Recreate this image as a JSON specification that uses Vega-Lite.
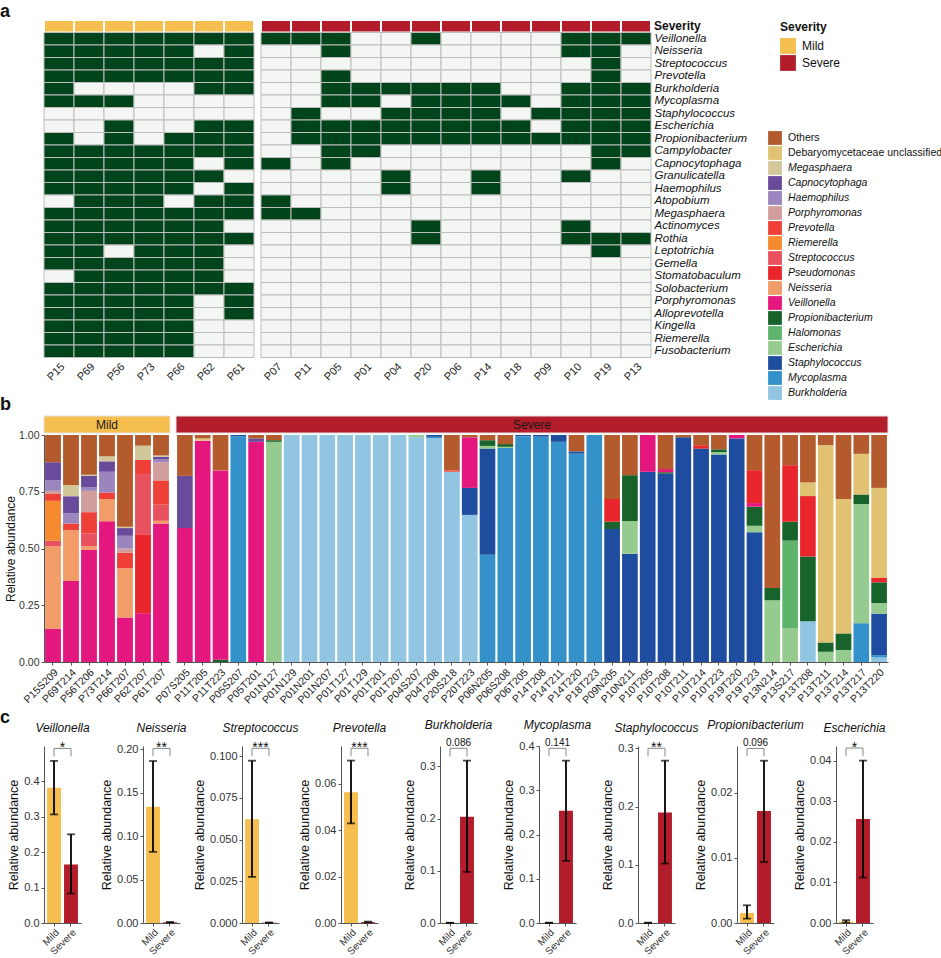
{
"$schema": "https://vega.github.io/schema/vega-lite/v6.json",
"background": "white",
"padding": {"top": 2, "left": 0, "right": 0, "bottom": 0},
"config": {
  "font": "Liberation Sans",
  "view": {"stroke": null},
  "axis": {"grid": false, "domainColor": "#555555", "tickColor": "#555555", "labelColor": "#333333", "titleColor": "#111111", "titleFontWeight": "normal", "labelFontSize": 11, "titleFontSize": 12.5, "tickSize": 3, "labelPadding": 2, "titlePadding": 3},
  "title": {"fontStyle": "italic", "fontSize": 12, "fontWeight": "normal", "offset": 6, "color": "#111111"},
  "legend": {"padding": 0, "labelFontSize": 11, "labelColor": "#111111"}
},
"datasets": {
  "patients": [{"pid":"P15","sev":"Mild"},{"pid":"P69","sev":"Mild"},{"pid":"P56","sev":"Mild"},{"pid":"P73","sev":"Mild"},{"pid":"P66","sev":"Mild"},{"pid":"P62","sev":"Mild"},{"pid":"P61","sev":"Mild"},{"pid":"P07","sev":"Severe"},{"pid":"P11","sev":"Severe"},{"pid":"P05","sev":"Severe"},{"pid":"P01","sev":"Severe"},{"pid":"P04","sev":"Severe"},{"pid":"P20","sev":"Severe"},{"pid":"P06","sev":"Severe"},{"pid":"P14","sev":"Severe"},{"pid":"P18","sev":"Severe"},{"pid":"P09","sev":"Severe"},{"pid":"P10","sev":"Severe"},{"pid":"P19","sev":"Severe"},{"pid":"P13","sev":"Severe"}],
  "genera": [{"genus":"Burkholderia","k":1},{"genus":"Mycoplasma","k":2},{"genus":"Staphylococcus","k":3},{"genus":"Escherichia","k":4},{"genus":"Halomonas","k":5},{"genus":"Propionibacterium","k":6},{"genus":"Veillonella","k":7},{"genus":"Neisseria","k":8},{"genus":"Pseudomonas","k":9},{"genus":"Streptococcus","k":10},{"genus":"Riemerella","k":11},{"genus":"Prevotella","k":12},{"genus":"Porphyromonas","k":13},{"genus":"Haemophilus","k":14},{"genus":"Capnocytophaga","k":15},{"genus":"Megasphaera","k":16},{"genus":"Debaryomycetaceae unclassified","k":17},{"genus":"Others","k":18}],
  "pres": [
    {"genus":"Veillonella","P15":1,"P69":1,"P56":1,"P73":1,"P66":1,"P62":1,"P61":1,"P07":1,"P11":1,"P05":1,"P01":0,"P04":0,"P20":1,"P06":0,"P14":0,"P18":0,"P09":0,"P10":1,"P19":1,"P13":1},
    {"genus":"Neisseria","P15":1,"P69":1,"P56":1,"P73":1,"P66":1,"P62":0,"P61":1,"P07":0,"P11":0,"P05":1,"P01":0,"P04":0,"P20":0,"P06":0,"P14":0,"P18":0,"P09":0,"P10":1,"P19":1,"P13":0},
    {"genus":"Streptococcus","P15":1,"P69":1,"P56":1,"P73":1,"P66":1,"P62":1,"P61":1,"P07":0,"P11":0,"P05":0,"P01":0,"P04":0,"P20":0,"P06":0,"P14":0,"P18":0,"P09":0,"P10":0,"P19":1,"P13":0},
    {"genus":"Prevotella","P15":1,"P69":1,"P56":1,"P73":1,"P66":1,"P62":1,"P61":1,"P07":0,"P11":0,"P05":1,"P01":0,"P04":0,"P20":0,"P06":0,"P14":0,"P18":0,"P09":0,"P10":0,"P19":1,"P13":0},
    {"genus":"Burkholderia","P15":1,"P69":0,"P56":0,"P73":0,"P66":0,"P62":1,"P61":1,"P07":0,"P11":0,"P05":1,"P01":1,"P04":1,"P20":1,"P06":1,"P14":1,"P18":0,"P09":0,"P10":1,"P19":1,"P13":1},
    {"genus":"Mycoplasma","P15":1,"P69":1,"P56":1,"P73":0,"P66":0,"P62":0,"P61":0,"P07":0,"P11":0,"P05":1,"P01":1,"P04":0,"P20":1,"P06":1,"P14":1,"P18":1,"P09":0,"P10":1,"P19":1,"P13":1},
    {"genus":"Staphylococcus","P15":0,"P69":0,"P56":0,"P73":0,"P66":0,"P62":0,"P61":0,"P07":0,"P11":1,"P05":0,"P01":0,"P04":1,"P20":1,"P06":1,"P14":1,"P18":0,"P09":1,"P10":1,"P19":1,"P13":1},
    {"genus":"Escherichia","P15":0,"P69":0,"P56":1,"P73":0,"P66":0,"P62":1,"P61":1,"P07":0,"P11":1,"P05":1,"P01":1,"P04":1,"P20":1,"P06":1,"P14":1,"P18":1,"P09":0,"P10":1,"P19":1,"P13":1},
    {"genus":"Propionibacterium","P15":1,"P69":0,"P56":1,"P73":0,"P66":1,"P62":1,"P61":1,"P07":0,"P11":1,"P05":1,"P01":1,"P04":1,"P20":1,"P06":1,"P14":1,"P18":1,"P09":1,"P10":1,"P19":1,"P13":1},
    {"genus":"Campylobacter","P15":1,"P69":1,"P56":1,"P73":1,"P66":1,"P62":1,"P61":1,"P07":0,"P11":0,"P05":1,"P01":1,"P04":0,"P20":0,"P06":0,"P14":0,"P18":0,"P09":0,"P10":0,"P19":1,"P13":1},
    {"genus":"Capnocytophaga","P15":1,"P69":1,"P56":1,"P73":1,"P66":1,"P62":0,"P61":1,"P07":1,"P11":0,"P05":1,"P01":0,"P04":0,"P20":0,"P06":0,"P14":0,"P18":0,"P09":0,"P10":0,"P19":1,"P13":0},
    {"genus":"Granulicatella","P15":1,"P69":1,"P56":1,"P73":1,"P66":1,"P62":1,"P61":0,"P07":0,"P11":0,"P05":0,"P01":0,"P04":1,"P20":0,"P06":0,"P14":1,"P18":0,"P09":0,"P10":1,"P19":0,"P13":0},
    {"genus":"Haemophilus","P15":1,"P69":1,"P56":1,"P73":1,"P66":1,"P62":0,"P61":1,"P07":0,"P11":0,"P05":0,"P01":0,"P04":1,"P20":0,"P06":0,"P14":1,"P18":0,"P09":0,"P10":0,"P19":0,"P13":0},
    {"genus":"Atopobium","P15":0,"P69":1,"P56":1,"P73":1,"P66":0,"P62":1,"P61":1,"P07":1,"P11":0,"P05":0,"P01":0,"P04":0,"P20":0,"P06":0,"P14":0,"P18":0,"P09":0,"P10":0,"P19":0,"P13":0},
    {"genus":"Megasphaera","P15":1,"P69":1,"P56":1,"P73":1,"P66":1,"P62":1,"P61":1,"P07":1,"P11":1,"P05":0,"P01":0,"P04":0,"P20":0,"P06":0,"P14":0,"P18":0,"P09":0,"P10":0,"P19":0,"P13":0},
    {"genus":"Actinomyces","P15":1,"P69":1,"P56":1,"P73":1,"P66":1,"P62":1,"P61":0,"P07":0,"P11":0,"P05":0,"P01":0,"P04":0,"P20":1,"P06":0,"P14":0,"P18":0,"P09":0,"P10":1,"P19":0,"P13":0},
    {"genus":"Rothia","P15":1,"P69":1,"P56":1,"P73":1,"P66":1,"P62":1,"P61":1,"P07":0,"P11":0,"P05":0,"P01":0,"P04":0,"P20":1,"P06":0,"P14":0,"P18":0,"P09":0,"P10":1,"P19":1,"P13":1},
    {"genus":"Leptotrichia","P15":1,"P69":1,"P56":0,"P73":1,"P66":1,"P62":1,"P61":0,"P07":0,"P11":0,"P05":0,"P01":0,"P04":0,"P20":0,"P06":0,"P14":0,"P18":0,"P09":0,"P10":0,"P19":1,"P13":0},
    {"genus":"Gemella","P15":1,"P69":1,"P56":1,"P73":1,"P66":1,"P62":1,"P61":0,"P07":0,"P11":0,"P05":0,"P01":0,"P04":0,"P20":0,"P06":0,"P14":0,"P18":0,"P09":0,"P10":0,"P19":0,"P13":0},
    {"genus":"Stomatobaculum","P15":0,"P69":1,"P56":1,"P73":1,"P66":1,"P62":1,"P61":0,"P07":0,"P11":0,"P05":0,"P01":0,"P04":0,"P20":0,"P06":0,"P14":0,"P18":0,"P09":0,"P10":0,"P19":0,"P13":0},
    {"genus":"Solobacterium","P15":1,"P69":1,"P56":1,"P73":1,"P66":1,"P62":1,"P61":1,"P07":0,"P11":0,"P05":0,"P01":0,"P04":0,"P20":0,"P06":0,"P14":0,"P18":0,"P09":0,"P10":0,"P19":0,"P13":0},
    {"genus":"Porphyromonas","P15":1,"P69":1,"P56":1,"P73":1,"P66":1,"P62":0,"P61":1,"P07":0,"P11":0,"P05":0,"P01":0,"P04":0,"P20":0,"P06":0,"P14":0,"P18":0,"P09":0,"P10":0,"P19":0,"P13":0},
    {"genus":"Alloprevotella","P15":1,"P69":1,"P56":1,"P73":1,"P66":1,"P62":0,"P61":1,"P07":0,"P11":0,"P05":0,"P01":0,"P04":0,"P20":0,"P06":0,"P14":0,"P18":0,"P09":0,"P10":0,"P19":0,"P13":0},
    {"genus":"Kingella","P15":1,"P69":1,"P56":1,"P73":1,"P66":1,"P62":0,"P61":0,"P07":0,"P11":0,"P05":0,"P01":0,"P04":0,"P20":0,"P06":0,"P14":0,"P18":0,"P09":0,"P10":0,"P19":0,"P13":0},
    {"genus":"Riemerella","P15":1,"P69":1,"P56":1,"P73":1,"P66":1,"P62":0,"P61":0,"P07":0,"P11":0,"P05":0,"P01":0,"P04":0,"P20":0,"P06":0,"P14":0,"P18":0,"P09":0,"P10":0,"P19":0,"P13":0},
    {"genus":"Fusobacterium","P15":1,"P69":1,"P56":1,"P73":1,"P66":1,"P62":0,"P61":0,"P07":0,"P11":0,"P05":0,"P01":0,"P04":0,"P20":0,"P06":0,"P14":0,"P18":0,"P09":0,"P10":0,"P19":0,"P13":0}
  ],
  "abund": [
    {"s":"P15S209","grp":"Mild","genus":"Veillonella","v":0.147},{"s":"P15S209","grp":"Mild","genus":"Neisseria","v":0.363},{"s":"P15S209","grp":"Mild","genus":"Streptococcus","v":0.024},{"s":"P15S209","grp":"Mild","genus":"Riemerella","v":0.176},{"s":"P15S209","grp":"Mild","genus":"Prevotella","v":0.03},{"s":"P15S209","grp":"Mild","genus":"Porphyromonas","v":0.014},{"s":"P15S209","grp":"Mild","genus":"Haemophilus","v":0.046},{"s":"P15S209","grp":"Mild","genus":"Capnocytophaga","v":0.08},{"s":"P15S209","grp":"Mild","genus":"Others","v":0.12},
    {"s":"P69T214","grp":"Mild","genus":"Veillonella","v":0.357},{"s":"P69T214","grp":"Mild","genus":"Neisseria","v":0.223},{"s":"P69T214","grp":"Mild","genus":"Prevotella","v":0.03},{"s":"P69T214","grp":"Mild","genus":"Haemophilus","v":0.045},{"s":"P69T214","grp":"Mild","genus":"Capnocytophaga","v":0.075},{"s":"P69T214","grp":"Mild","genus":"Megasphaera","v":0.05},{"s":"P69T214","grp":"Mild","genus":"Others","v":0.22},
    {"s":"P56T206","grp":"Mild","genus":"Veillonella","v":0.494},{"s":"P56T206","grp":"Mild","genus":"Neisseria","v":0.016},{"s":"P56T206","grp":"Mild","genus":"Streptococcus","v":0.057},{"s":"P56T206","grp":"Mild","genus":"Prevotella","v":0.093},{"s":"P56T206","grp":"Mild","genus":"Porphyromonas","v":0.094},{"s":"P56T206","grp":"Mild","genus":"Haemophilus","v":0.016},{"s":"P56T206","grp":"Mild","genus":"Capnocytophaga","v":0.05},{"s":"P56T206","grp":"Mild","genus":"Megasphaera","v":0.005},{"s":"P56T206","grp":"Mild","genus":"Others","v":0.175},
    {"s":"P73T214","grp":"Mild","genus":"Veillonella","v":0.62},{"s":"P73T214","grp":"Mild","genus":"Neisseria","v":0.098},{"s":"P73T214","grp":"Mild","genus":"Prevotella","v":0.029},{"s":"P73T214","grp":"Mild","genus":"Haemophilus","v":0.091},{"s":"P73T214","grp":"Mild","genus":"Capnocytophaga","v":0.046},{"s":"P73T214","grp":"Mild","genus":"Megasphaera","v":0.022},{"s":"P73T214","grp":"Mild","genus":"Others","v":0.094},
    {"s":"P66T207","grp":"Mild","genus":"Veillonella","v":0.196},{"s":"P66T207","grp":"Mild","genus":"Neisseria","v":0.217},{"s":"P66T207","grp":"Mild","genus":"Prevotella","v":0.069},{"s":"P66T207","grp":"Mild","genus":"Porphyromonas","v":0.018},{"s":"P66T207","grp":"Mild","genus":"Haemophilus","v":0.056},{"s":"P66T207","grp":"Mild","genus":"Capnocytophaga","v":0.034},{"s":"P66T207","grp":"Mild","genus":"Megasphaera","v":0.006},{"s":"P66T207","grp":"Mild","genus":"Others","v":0.404},
    {"s":"P62T207","grp":"Mild","genus":"Veillonella","v":0.215},{"s":"P62T207","grp":"Mild","genus":"Pseudomonas","v":0.348},{"s":"P62T207","grp":"Mild","genus":"Streptococcus","v":0.265},{"s":"P62T207","grp":"Mild","genus":"Prevotella","v":0.062},{"s":"P62T207","grp":"Mild","genus":"Megasphaera","v":0.063},{"s":"P62T207","grp":"Mild","genus":"Others","v":0.047},
    {"s":"P61T207","grp":"Mild","genus":"Veillonella","v":0.61},{"s":"P61T207","grp":"Mild","genus":"Neisseria","v":0.012},{"s":"P61T207","grp":"Mild","genus":"Streptococcus","v":0.071},{"s":"P61T207","grp":"Mild","genus":"Prevotella","v":0.107},{"s":"P61T207","grp":"Mild","genus":"Porphyromonas","v":0.08},{"s":"P61T207","grp":"Mild","genus":"Haemophilus","v":0.014},{"s":"P61T207","grp":"Mild","genus":"Capnocytophaga","v":0.01},{"s":"P61T207","grp":"Mild","genus":"Megasphaera","v":0.006},{"s":"P61T207","grp":"Mild","genus":"Others","v":0.09},
    {"s":"P07S205","grp":"Severe","genus":"Veillonella","v":0.59},{"s":"P07S205","grp":"Severe","genus":"Capnocytophaga","v":0.23},{"s":"P07S205","grp":"Severe","genus":"Others","v":0.18},
    {"s":"P11T205","grp":"Severe","genus":"Veillonella","v":0.975},{"s":"P11T205","grp":"Severe","genus":"Debaryomycetaceae unclassified","v":0.01},{"s":"P11T205","grp":"Severe","genus":"Others","v":0.015},
    {"s":"P11T223","grp":"Severe","genus":"Propionibacterium","v":0.01},{"s":"P11T223","grp":"Severe","genus":"Veillonella","v":0.834},{"s":"P11T223","grp":"Severe","genus":"Others","v":0.156},
    {"s":"P05S207","grp":"Severe","genus":"Mycoplasma","v":0.995},{"s":"P05S207","grp":"Severe","genus":"Staphylococcus","v":0.005},
    {"s":"P05T201","grp":"Severe","genus":"Veillonella","v":0.97},{"s":"P05T201","grp":"Severe","genus":"Capnocytophaga","v":0.015},{"s":"P05T201","grp":"Severe","genus":"Others","v":0.015},
    {"s":"P01N127","grp":"Severe","genus":"Escherichia","v":0.97},{"s":"P01N127","grp":"Severe","genus":"Propionibacterium","v":0.007},{"s":"P01N127","grp":"Severe","genus":"Others","v":0.023},
    {"s":"P01N129","grp":"Severe","genus":"Burkholderia","v":1},
    {"s":"P01N201","grp":"Severe","genus":"Burkholderia","v":1},
    {"s":"P01N207","grp":"Severe","genus":"Burkholderia","v":1},
    {"s":"P01T127","grp":"Severe","genus":"Burkholderia","v":1},
    {"s":"P01T129","grp":"Severe","genus":"Burkholderia","v":1},
    {"s":"P01T201","grp":"Severe","genus":"Burkholderia","v":1},
    {"s":"P01T207","grp":"Severe","genus":"Burkholderia","v":1},
    {"s":"P04S207","grp":"Severe","genus":"Burkholderia","v":0.99},{"s":"P04S207","grp":"Severe","genus":"Escherichia","v":0.01},
    {"s":"P04T208","grp":"Severe","genus":"Burkholderia","v":0.985},{"s":"P04T208","grp":"Severe","genus":"Mycoplasma","v":0.007},{"s":"P04T208","grp":"Severe","genus":"Staphylococcus","v":0.008},
    {"s":"P20S218","grp":"Severe","genus":"Burkholderia","v":0.838},{"s":"P20S218","grp":"Severe","genus":"Prevotella","v":0.006},{"s":"P20S218","grp":"Severe","genus":"Others","v":0.156},
    {"s":"P20T223","grp":"Severe","genus":"Burkholderia","v":0.648},{"s":"P20T223","grp":"Severe","genus":"Staphylococcus","v":0.119},{"s":"P20T223","grp":"Severe","genus":"Veillonella","v":0.223},{"s":"P20T223","grp":"Severe","genus":"Others","v":0.01},
    {"s":"P06N205","grp":"Severe","genus":"Mycoplasma","v":0.472},{"s":"P06N205","grp":"Severe","genus":"Staphylococcus","v":0.468},{"s":"P06N205","grp":"Severe","genus":"Escherichia","v":0.012},{"s":"P06N205","grp":"Severe","genus":"Propionibacterium","v":0.025},{"s":"P06N205","grp":"Severe","genus":"Others","v":0.023},
    {"s":"P06S208","grp":"Severe","genus":"Mycoplasma","v":0.943},{"s":"P06S208","grp":"Severe","genus":"Escherichia","v":0.005},{"s":"P06S208","grp":"Severe","genus":"Propionibacterium","v":0.012},{"s":"P06S208","grp":"Severe","genus":"Others","v":0.04},
    {"s":"P06T205","grp":"Severe","genus":"Mycoplasma","v":0.995},{"s":"P06T205","grp":"Severe","genus":"Staphylococcus","v":0.005},
    {"s":"P14T208","grp":"Severe","genus":"Mycoplasma","v":0.993},{"s":"P14T208","grp":"Severe","genus":"Staphylococcus","v":0.007},
    {"s":"P14T211","grp":"Severe","genus":"Mycoplasma","v":0.97},{"s":"P14T211","grp":"Severe","genus":"Staphylococcus","v":0.03},
    {"s":"P14T220","grp":"Severe","genus":"Mycoplasma","v":0.918},{"s":"P14T220","grp":"Severe","genus":"Staphylococcus","v":0.01},{"s":"P14T220","grp":"Severe","genus":"Others","v":0.072},
    {"s":"P18T223","grp":"Severe","genus":"Mycoplasma","v":1},
    {"s":"P09N205","grp":"Severe","genus":"Staphylococcus","v":0.586},{"s":"P09N205","grp":"Severe","genus":"Propionibacterium","v":0.032},{"s":"P09N205","grp":"Severe","genus":"Pseudomonas","v":0.1},{"s":"P09N205","grp":"Severe","genus":"Others","v":0.282},
    {"s":"P10N211","grp":"Severe","genus":"Staphylococcus","v":0.477},{"s":"P10N211","grp":"Severe","genus":"Escherichia","v":0.144},{"s":"P10N211","grp":"Severe","genus":"Propionibacterium","v":0.202},{"s":"P10N211","grp":"Severe","genus":"Others","v":0.177},
    {"s":"P10T205","grp":"Severe","genus":"Staphylococcus","v":0.838},{"s":"P10T205","grp":"Severe","genus":"Veillonella","v":0.162},
    {"s":"P10T208","grp":"Severe","genus":"Staphylococcus","v":0.83},{"s":"P10T208","grp":"Severe","genus":"Propionibacterium","v":0.006},{"s":"P10T208","grp":"Severe","genus":"Veillonella","v":0.014},{"s":"P10T208","grp":"Severe","genus":"Others","v":0.15},
    {"s":"P10T211","grp":"Severe","genus":"Staphylococcus","v":0.99},{"s":"P10T211","grp":"Severe","genus":"Others","v":0.01},
    {"s":"P10T214","grp":"Severe","genus":"Staphylococcus","v":0.94},{"s":"P10T214","grp":"Severe","genus":"Pseudomonas","v":0.015},{"s":"P10T214","grp":"Severe","genus":"Others","v":0.045},
    {"s":"P10T223","grp":"Severe","genus":"Staphylococcus","v":0.914},{"s":"P10T223","grp":"Severe","genus":"Escherichia","v":0.011},{"s":"P10T223","grp":"Severe","genus":"Propionibacterium","v":0.012},{"s":"P10T223","grp":"Severe","genus":"Others","v":0.063},
    {"s":"P19T220","grp":"Severe","genus":"Staphylococcus","v":0.985},{"s":"P19T220","grp":"Severe","genus":"Veillonella","v":0.015},
    {"s":"P19T223","grp":"Severe","genus":"Staphylococcus","v":0.572},{"s":"P19T223","grp":"Severe","genus":"Escherichia","v":0.028},{"s":"P19T223","grp":"Severe","genus":"Propionibacterium","v":0.084},{"s":"P19T223","grp":"Severe","genus":"Veillonella","v":0.016},{"s":"P19T223","grp":"Severe","genus":"Pseudomonas","v":0.145},{"s":"P19T223","grp":"Severe","genus":"Others","v":0.155},
    {"s":"P13N214","grp":"Severe","genus":"Escherichia","v":0.272},{"s":"P13N214","grp":"Severe","genus":"Propionibacterium","v":0.054},{"s":"P13N214","grp":"Severe","genus":"Others","v":0.674},
    {"s":"P13S217","grp":"Severe","genus":"Escherichia","v":0.148},{"s":"P13S217","grp":"Severe","genus":"Halomonas","v":0.387},{"s":"P13S217","grp":"Severe","genus":"Propionibacterium","v":0.083},{"s":"P13S217","grp":"Severe","genus":"Pseudomonas","v":0.249},{"s":"P13S217","grp":"Severe","genus":"Others","v":0.133},
    {"s":"P13T208","grp":"Severe","genus":"Burkholderia","v":0.18},{"s":"P13T208","grp":"Severe","genus":"Propionibacterium","v":0.285},{"s":"P13T208","grp":"Severe","genus":"Pseudomonas","v":0.266},{"s":"P13T208","grp":"Severe","genus":"Debaryomycetaceae unclassified","v":0.06},{"s":"P13T208","grp":"Severe","genus":"Others","v":0.209},
    {"s":"P13T211","grp":"Severe","genus":"Escherichia","v":0.045},{"s":"P13T211","grp":"Severe","genus":"Propionibacterium","v":0.041},{"s":"P13T211","grp":"Severe","genus":"Debaryomycetaceae unclassified","v":0.869},{"s":"P13T211","grp":"Severe","genus":"Others","v":0.045},
    {"s":"P13T214","grp":"Severe","genus":"Escherichia","v":0.053},{"s":"P13T214","grp":"Severe","genus":"Propionibacterium","v":0.073},{"s":"P13T214","grp":"Severe","genus":"Debaryomycetaceae unclassified","v":0.592},{"s":"P13T214","grp":"Severe","genus":"Others","v":0.282},
    {"s":"P13T217","grp":"Severe","genus":"Mycoplasma","v":0.171},{"s":"P13T217","grp":"Severe","genus":"Escherichia","v":0.525},{"s":"P13T217","grp":"Severe","genus":"Propionibacterium","v":0.042},{"s":"P13T217","grp":"Severe","genus":"Debaryomycetaceae unclassified","v":0.179},{"s":"P13T217","grp":"Severe","genus":"Others","v":0.083},
    {"s":"P13T220","grp":"Severe","genus":"Burkholderia","v":0.02},{"s":"P13T220","grp":"Severe","genus":"Mycoplasma","v":0.01},{"s":"P13T220","grp":"Severe","genus":"Staphylococcus","v":0.183},{"s":"P13T220","grp":"Severe","genus":"Escherichia","v":0.047},{"s":"P13T220","grp":"Severe","genus":"Propionibacterium","v":0.091},{"s":"P13T220","grp":"Severe","genus":"Pseudomonas","v":0.019},{"s":"P13T220","grp":"Severe","genus":"Debaryomycetaceae unclassified","v":0.397},{"s":"P13T220","grp":"Severe","genus":"Others","v":0.233}
  ],
  "cstats": [
    {"genus":"Veillonella","group":"Mild","mean":0.381,"lo":0.306,"hi":0.457},
    {"genus":"Veillonella","group":"Severe","mean":0.165,"lo":0.083,"hi":0.25},
    {"genus":"Neisseria","group":"Mild","mean":0.1338,"lo":0.0819,"hi":0.1865},
    {"genus":"Neisseria","group":"Severe","mean":0.0008,"lo":0.0004,"hi":0.0012},
    {"genus":"Streptococcus","group":"Mild","mean":0.0622,"lo":0.0276,"hi":0.0972},
    {"genus":"Streptococcus","group":"Severe","mean":0.0002,"lo":0.0001,"hi":0.0003},
    {"genus":"Prevotella","group":"Mild","mean":0.0564,"lo":0.043,"hi":0.0701},
    {"genus":"Prevotella","group":"Severe","mean":0.0004,"lo":0.0002,"hi":0.0006},
    {"genus":"Burkholderia","group":"Mild","mean":0.0003,"lo":0.0001,"hi":0.0005},
    {"genus":"Burkholderia","group":"Severe","mean":0.2035,"lo":0.0979,"hi":0.311},
    {"genus":"Mycoplasma","group":"Mild","mean":0.0005,"lo":0.0002,"hi":0.0008},
    {"genus":"Mycoplasma","group":"Severe","mean":0.2536,"lo":0.1404,"hi":0.3668},
    {"genus":"Staphylococcus","group":"Mild","mean":0.0004,"lo":0.0002,"hi":0.0006},
    {"genus":"Staphylococcus","group":"Severe","mean":0.1899,"lo":0.1021,"hi":0.2788},
    {"genus":"Propionibacterium","group":"Mild","mean":0.00154,"lo":0.00067,"hi":0.00272},
    {"genus":"Propionibacterium","group":"Severe","mean":0.01718,"lo":0.00938,"hi":0.02492},
    {"genus":"Escherichia","group":"Mild","mean":0.0004,"lo":0.0001,"hi":0.0007},
    {"genus":"Escherichia","group":"Severe","mean":0.0256,"lo":0.0112,"hi":0.04}
  ],
  "brackets": [
    {"genus":"Veillonella","label":"*","top":0.492,"tip":0.4695},
    {"genus":"Neisseria","label":"**","top":0.201,"tip":0.192},
    {"genus":"Streptococcus","label":"***","top":0.1046,"tip":0.0998},
    {"genus":"Prevotella","label":"***","top":0.0754,"tip":0.072},
    {"genus":"Burkholderia","label":"0.086","top":0.3346,"tip":0.319},
    {"genus":"Mycoplasma","label":"0.141","top":0.3947,"tip":0.3766},
    {"genus":"Staphylococcus","label":"**","top":0.3,"tip":0.286},
    {"genus":"Propionibacterium","label":"0.096","top":0.0268,"tip":0.0256},
    {"genus":"Escherichia","label":"*","top":0.0431,"tip":0.0411}
  ]
},
"resolve": {"scale": {"color": "independent"}, "legend": {"color": "independent"}},
"spacing": -5,
"vconcat": [
 {
  "title": {"text": "a", "anchor": "start", "frame": "group", "fontSize": 18, "fontWeight": "bold", "fontStyle": "normal", "dx": -44, "offset": -1.5},
  "bounds": "flush", "spacing": 7,
  "resolve": {"scale": {"color": "independent"}, "legend": {"color": "independent"}},
  "hconcat": [
   {"width": 210, "height": 337.5,
    "layer": [
     {"data": {"name": "patients"}, "transform": [{"filter": {"field": "sev", "equal": "Mild"}}],
      "mark": {"type": "rect", "stroke": "#FFFFFF", "strokeWidth": 2},
      "encoding": {"x": {"field": "pid", "type": "nominal", "scale": {"domain": ["P15","P69","P56","P73","P66","P62","P61"]}},
        "y": {"datum": "Severity", "type": "nominal", "axis": null},
        "color": {"field": "sev", "type": "nominal", "scale": {"domain": ["Mild","Severe"], "range": ["#F6BE4F","#B21C2B"]}, "legend": null}}},
     {"data": {"name": "pres"}, "transform": [{"fold": ["P15","P69","P56","P73","P66","P62","P61"], "as": ["pid","v"]}],
      "mark": {"type": "rect", "stroke": "#BDBDBD", "strokeWidth": 1},
      "encoding": {
        "x": {"field": "pid", "type": "nominal", "scale": {"domain": ["P15","P69","P56","P73","P66","P62","P61"]}, "axis": {"title": null, "labelAngle": -45, "labelAlign": "right", "labelBaseline": "top", "ticks": false, "domain": false, "labelFontSize": 11, "labelColor": "#222222", "labelPadding": 3}},
        "y": {"field": "genus", "type": "nominal", "scale": {"domain": ["Severity","Veillonella","Neisseria","Streptococcus","Prevotella","Burkholderia","Mycoplasma","Staphylococcus","Escherichia","Propionibacterium","Campylobacter","Capnocytophaga","Granulicatella","Haemophilus","Atopobium","Megasphaera","Actinomyces","Rothia","Leptotrichia","Gemella","Stomatobaculum","Solobacterium","Porphyromonas","Alloprevotella","Kingella","Riemerella","Fusobacterium"]}, "axis": null},
        "color": {"condition": {"test": "datum.v == 1", "value": "#00441B"}, "value": "#F4F6F3"}}}
    ]},
   {"width": 390, "height": 337.5,
    "layer": [
     {"data": {"name": "patients"}, "transform": [{"filter": {"field": "sev", "equal": "Severe"}}],
      "mark": {"type": "rect", "stroke": "#FFFFFF", "strokeWidth": 2},
      "encoding": {"x": {"field": "pid", "type": "nominal", "scale": {"domain": ["P07","P11","P05","P01","P04","P20","P06","P14","P18","P09","P10","P19","P13"]}},
        "y": {"datum": "Severity", "type": "nominal"},
        "color": {"field": "sev", "type": "nominal", "scale": {"domain": ["Mild","Severe"], "range": ["#F6BE4F","#B21C2B"]},
          "legend": {"title": "Severity", "orient": "none", "legendX": 519, "legendY": 2, "symbolType": "square", "symbolSize": 250, "symbolStrokeWidth": 0, "titleFontSize": 12, "titleFontWeight": "bold", "titleColor": "#111111", "labelFontSize": 12, "rowPadding": 1, "titlePadding": 4, "labelOffset": 6}}}},
     {"data": {"name": "pres"}, "transform": [{"fold": ["P07","P11","P05","P01","P04","P20","P06","P14","P18","P09","P10","P19","P13"], "as": ["pid","v"]}],
      "mark": {"type": "rect", "stroke": "#BDBDBD", "strokeWidth": 1},
      "encoding": {
        "x": {"field": "pid", "type": "nominal", "scale": {"domain": ["P07","P11","P05","P01","P04","P20","P06","P14","P18","P09","P10","P19","P13"]}, "axis": {"title": null, "labelAngle": -45, "labelAlign": "right", "labelBaseline": "top", "ticks": false, "domain": false, "labelFontSize": 11, "labelColor": "#222222", "labelPadding": 3}},
        "y": {"field": "genus", "type": "nominal", "scale": {"domain": ["Severity","Veillonella","Neisseria","Streptococcus","Prevotella","Burkholderia","Mycoplasma","Staphylococcus","Escherichia","Propionibacterium","Campylobacter","Capnocytophaga","Granulicatella","Haemophilus","Atopobium","Megasphaera","Actinomyces","Rothia","Leptotrichia","Gemella","Stomatobaculum","Solobacterium","Porphyromonas","Alloprevotella","Kingella","Riemerella","Fusobacterium"]},
          "axis": {"orient": "right", "title": null, "ticks": false, "domain": false, "labelFontSize": 11.5, "labelColor": "#111111", "labelPadding": 3, "labelFontStyle": "italic", "labelExpr": "datum.value == 'Severity' ? '' : datum.label"}},
        "color": {"condition": {"test": "datum.v == 1", "value": "#00441B"}, "value": "#F4F6F3"}}},
     {"data": {"values": [{"lab": "Severity"}]},
      "mark": {"type": "text", "align": "left", "baseline": "middle", "dx": 18, "fontSize": 12, "fontWeight": "bold", "color": "#111111"},
      "encoding": {"x": {"datum": "P13", "type": "nominal"}, "y": {"datum": "Severity", "type": "nominal"}, "text": {"field": "lab", "type": "nominal"}}}
    ]},
   {"width": 1, "height": 1, "data": {"name": "abund"},
    "mark": {"type": "square", "opacity": 0, "size": 0},
    "encoding": {
      "color": {"field": "genus", "type": "nominal",
        "scale": {"domain": ["Others","Debaryomycetaceae unclassified","Megasphaera","Capnocytophaga","Haemophilus","Porphyromonas","Prevotella","Riemerella","Streptococcus","Pseudomonas","Neisseria","Veillonella","Propionibacterium","Halomonas","Escherichia","Staphylococcus","Mycoplasma","Burkholderia"],
           "range": ["#B35B2C","#E0C272","#D2C79A","#6A4A9A","#9B85BE","#D29D9D","#EE4036","#F58A2F","#E8525E","#E9262B","#F29C68","#E3177D","#17632B","#5DB46A","#95CB8F","#1E4D9F","#3491C9","#92C5E1"]},
        "legend": {"title": null, "orient": "none", "legendX": 110, "legendY": 111, "symbolType": "square", "symbolSize": 190, "symbolStrokeWidth": 0, "symbolOpacity": 1, "labelFontSize": 10.5, "rowPadding": 1, "labelOffset": 6, "labelLimit": 300,
          "labelFontStyle": {"expr": "datum.label == 'Others' || datum.label == 'Debaryomycetaceae unclassified' ? 'normal' : 'italic'"}}}}}
  ]
 },
 {
  "spacing": -4,
  "resolve": {"scale": {"color": "independent"}, "legend": {"color": "independent"}},
  "vconcat": [
   {"title": {"text": "b", "anchor": "start", "frame": "group", "fontSize": 18, "fontWeight": "bold", "fontStyle": "normal", "dx": -44, "offset": 2},
    "bounds": "flush", "spacing": 6,
    "resolve": {"scale": {"color": "independent"}, "legend": {"color": "independent"}},
    "hconcat": [
     {"width": 126, "height": 17, "data": {"values": [{"sev": "Mild"}]},
      "encoding": {"x": {"field": "sev", "type": "nominal", "axis": null}, "y": {"field": "sev", "type": "nominal", "axis": null}},
      "layer": [
       {"mark": {"type": "rect", "stroke": "#E3E3E3", "strokeWidth": 1}, "encoding": {"color": {"field": "sev", "type": "nominal", "scale": {"domain": ["Mild","Severe"], "range": ["#F6BE4F","#B21C2B"]}, "legend": null}}},
       {"mark": {"type": "text", "fontSize": 12, "color": "#1a1a1a"}, "encoding": {"text": {"field": "sev", "type": "nominal"}}}
      ]},
     {"width": 712, "height": 17, "data": {"values": [{"sev": "Severe"}]},
      "encoding": {"x": {"field": "sev", "type": "nominal", "axis": null}, "y": {"field": "sev", "type": "nominal", "axis": null}},
      "layer": [
       {"mark": {"type": "rect", "stroke": "#E3E3E3", "strokeWidth": 1}, "encoding": {"color": {"field": "sev", "type": "nominal", "scale": {"domain": ["Mild","Severe"], "range": ["#F6BE4F","#B21C2B"]}, "legend": null}}},
       {"mark": {"type": "text", "fontSize": 12, "color": "#1a1a1a"}, "encoding": {"text": {"field": "sev", "type": "nominal"}}}
      ]}
    ]},
   {
    "spacing": 3,
    "resolve": {"scale": {"color": "independent"}, "legend": {"color": "independent"}},
    "vconcat": [
     {"bounds": "flush", "spacing": 6,
      "resolve": {"scale": {"color": "independent"}, "legend": {"color": "independent"}},
      "hconcat": [
       {"width": 126, "height": 227, "data": {"name": "abund"},
        "transform": [{"filter": {"field": "grp", "equal": "Mild"}}, {"lookup": "genus", "from": {"data": {"name": "genera"}, "key": "genus", "fields": ["k"]}}],
        "mark": {"type": "bar"},
        "encoding": {
         "x": {"field": "s", "type": "nominal", "sort": null, "scale": {"paddingInner": 0.12, "paddingOuter": 0.06}, "axis": {"title": null, "labelAngle": -45, "labelAlign": "right", "labelBaseline": "top", "labelFontSize": 10.5, "labelColor": "#222222", "tickSize": 3, "labelPadding": 2}},
         "y": {"field": "v", "type": "quantitative", "stack": "zero", "scale": {"domain": [0, 1], "nice": false}, "axis": {"title": "Relative abundance", "values": [0, 0.25, 0.5, 0.75, 1], "format": ".2f", "titleFontSize": 12, "labelFontSize": 10.5, "titlePadding": 1}},
         "order": {"field": "k", "type": "quantitative", "sort": "ascending"},
         "color": {"field": "genus", "type": "nominal",
           "scale": {"domain": ["Others","Debaryomycetaceae unclassified","Megasphaera","Capnocytophaga","Haemophilus","Porphyromonas","Prevotella","Riemerella","Streptococcus","Pseudomonas","Neisseria","Veillonella","Propionibacterium","Halomonas","Escherichia","Staphylococcus","Mycoplasma","Burkholderia"],
             "range": ["#B35B2C","#E0C272","#D2C79A","#6A4A9A","#9B85BE","#D29D9D","#EE4036","#F58A2F","#E8525E","#E9262B","#F29C68","#E3177D","#17632B","#5DB46A","#95CB8F","#1E4D9F","#3491C9","#92C5E1"]},
           "legend": null}}},
       {"width": 712, "height": 227, "data": {"name": "abund"},
        "transform": [{"filter": {"field": "grp", "equal": "Severe"}}, {"lookup": "genus", "from": {"data": {"name": "genera"}, "key": "genus", "fields": ["k"]}}],
        "mark": {"type": "bar"},
        "encoding": {
         "x": {"field": "s", "type": "nominal", "sort": null, "scale": {"paddingInner": 0.12, "paddingOuter": 0.06}, "axis": {"title": null, "labelAngle": -45, "labelAlign": "right", "labelBaseline": "top", "labelFontSize": 10.5, "labelColor": "#222222", "tickSize": 3, "labelPadding": 2}},
         "y": {"field": "v", "type": "quantitative", "stack": "zero", "scale": {"domain": [0, 1], "nice": false}, "axis": null},
         "order": {"field": "k", "type": "quantitative", "sort": "ascending"},
         "color": {"field": "genus", "type": "nominal",
           "scale": {"domain": ["Others","Debaryomycetaceae unclassified","Megasphaera","Capnocytophaga","Haemophilus","Porphyromonas","Prevotella","Riemerella","Streptococcus","Pseudomonas","Neisseria","Veillonella","Propionibacterium","Halomonas","Escherichia","Staphylococcus","Mycoplasma","Burkholderia"],
             "range": ["#B35B2C","#E0C272","#D2C79A","#6A4A9A","#9B85BE","#D29D9D","#EE4036","#F58A2F","#E8525E","#E9262B","#F29C68","#E3177D","#17632B","#5DB46A","#95CB8F","#1E4D9F","#3491C9","#92C5E1"]},
           "legend": null}}}
      ]},
     {
      "title": {"text": "c", "anchor": "start", "frame": "group", "fontSize": 18, "fontWeight": "bold", "fontStyle": "normal", "dx": -44, "offset": -8},
      "bounds": "flush", "spacing": 62,
      "resolve": {"scale": {"color": "independent"}, "legend": {"color": "independent"}},
      "hconcat": [
       {"width": 37, "height": 177, "title": {"text": "Veillonella"},
        "encoding": {"x": {"field": "group", "type": "nominal", "scale": {"domain": ["Mild","Severe"], "paddingInner": 0.18, "paddingOuter": 0.18}, "axis": {"title": null, "labelAngle": -45, "labelAlign": "right", "labelBaseline": "top", "labelFontSize": 10, "labelPadding": 1}}},
        "layer": [
         {"data": {"name": "cstats"}, "transform": [{"filter": {"field": "genus", "equal": "Veillonella"}}],
          "layer": [
           {"mark": {"type": "bar"}, "encoding": {"y": {"field": "mean", "type": "quantitative", "scale": {"domain": [0, 0.499], "nice": false}, "axis": {"title": "Relative abundance", "values": [0, 0.1, 0.2, 0.3, 0.4]}}, "color": {"field": "group", "type": "nominal", "scale": {"domain": ["Mild","Severe"], "range": ["#F6BE4F","#B21C2B"]}, "legend": null}}},
           {"mark": {"type": "rule", "color": "#000000", "strokeWidth": 1.8}, "encoding": {"y": {"field": "lo", "type": "quantitative"}, "y2": {"field": "hi"}}},
           {"mark": {"type": "tick", "color": "#000000", "thickness": 1.8, "size": 8}, "encoding": {"y": {"field": "lo", "type": "quantitative"}}},
           {"mark": {"type": "tick", "color": "#000000", "thickness": 1.8, "size": 8}, "encoding": {"y": {"field": "hi", "type": "quantitative"}}}
          ]},
         {"data": {"name": "brackets"}, "transform": [{"filter": {"field": "genus", "equal": "Veillonella"}}],
          "layer": [
           {"mark": {"type": "rule", "color": "#888888", "strokeWidth": 1}, "encoding": {"x": {"datum": "Mild", "type": "nominal"}, "x2": {"datum": "Severe"}, "y": {"field": "top", "type": "quantitative"}}},
           {"mark": {"type": "rule", "color": "#888888", "strokeWidth": 1}, "encoding": {"x": {"datum": "Mild", "type": "nominal"}, "y": {"field": "top", "type": "quantitative"}, "y2": {"field": "tip"}}},
           {"mark": {"type": "rule", "color": "#888888", "strokeWidth": 1}, "encoding": {"x": {"datum": "Severe", "type": "nominal"}, "y": {"field": "top", "type": "quantitative"}, "y2": {"field": "tip"}}},
           {"mark": {"type": "text", "fontSize": 14, "baseline": "alphabetic", "dx": 8.5, "dy": 4, "color": "#111111"}, "encoding": {"x": {"datum": "Mild", "type": "nominal"}, "y": {"field": "top", "type": "quantitative"}, "text": {"field": "label", "type": "nominal"}}}
          ]}
        ]},
       {"width": 37, "height": 177, "title": {"text": "Neisseria"},
        "encoding": {"x": {"field": "group", "type": "nominal", "scale": {"domain": ["Mild","Severe"], "paddingInner": 0.18, "paddingOuter": 0.18}, "axis": {"title": null, "labelAngle": -45, "labelAlign": "right", "labelBaseline": "top", "labelFontSize": 10, "labelPadding": 1}}},
        "layer": [
         {"data": {"name": "cstats"}, "transform": [{"filter": {"field": "genus", "equal": "Neisseria"}}],
          "layer": [
           {"mark": {"type": "bar"}, "encoding": {"y": {"field": "mean", "type": "quantitative", "scale": {"domain": [0, 0.2038], "nice": false}, "axis": {"title": "Relative abundance", "values": [0, 0.05, 0.1, 0.15, 0.2], "format": ".2f"}}, "color": {"field": "group", "type": "nominal", "scale": {"domain": ["Mild","Severe"], "range": ["#F6BE4F","#B21C2B"]}, "legend": null}}},
           {"mark": {"type": "rule", "color": "#000000", "strokeWidth": 1.8}, "encoding": {"y": {"field": "lo", "type": "quantitative"}, "y2": {"field": "hi"}}},
           {"mark": {"type": "tick", "color": "#000000", "thickness": 1.8, "size": 8}, "encoding": {"y": {"field": "lo", "type": "quantitative"}}},
           {"mark": {"type": "tick", "color": "#000000", "thickness": 1.8, "size": 8}, "encoding": {"y": {"field": "hi", "type": "quantitative"}}}
          ]},
         {"data": {"name": "brackets"}, "transform": [{"filter": {"field": "genus", "equal": "Neisseria"}}],
          "layer": [
           {"mark": {"type": "rule", "color": "#888888", "strokeWidth": 1}, "encoding": {"x": {"datum": "Mild", "type": "nominal"}, "x2": {"datum": "Severe"}, "y": {"field": "top", "type": "quantitative"}}},
           {"mark": {"type": "rule", "color": "#888888", "strokeWidth": 1}, "encoding": {"x": {"datum": "Mild", "type": "nominal"}, "y": {"field": "top", "type": "quantitative"}, "y2": {"field": "tip"}}},
           {"mark": {"type": "rule", "color": "#888888", "strokeWidth": 1}, "encoding": {"x": {"datum": "Severe", "type": "nominal"}, "y": {"field": "top", "type": "quantitative"}, "y2": {"field": "tip"}}},
           {"mark": {"type": "text", "fontSize": 14, "baseline": "alphabetic", "dx": 8.5, "dy": 4, "color": "#111111"}, "encoding": {"x": {"datum": "Mild", "type": "nominal"}, "y": {"field": "top", "type": "quantitative"}, "text": {"field": "label", "type": "nominal"}}}
          ]}
        ]},
       {"width": 37, "height": 177, "title": {"text": "Streptococcus"},
        "encoding": {"x": {"field": "group", "type": "nominal", "scale": {"domain": ["Mild","Severe"], "paddingInner": 0.18, "paddingOuter": 0.18}, "axis": {"title": null, "labelAngle": -45, "labelAlign": "right", "labelBaseline": "top", "labelFontSize": 10, "labelPadding": 1}}},
        "layer": [
         {"data": {"name": "cstats"}, "transform": [{"filter": {"field": "genus", "equal": "Streptococcus"}}],
          "layer": [
           {"mark": {"type": "bar"}, "encoding": {"y": {"field": "mean", "type": "quantitative", "scale": {"domain": [0, 0.106], "nice": false}, "axis": {"title": "Relative abundance", "values": [0, 0.025, 0.05, 0.075, 0.1], "format": ".3f"}}, "color": {"field": "group", "type": "nominal", "scale": {"domain": ["Mild","Severe"], "range": ["#F6BE4F","#B21C2B"]}, "legend": null}}},
           {"mark": {"type": "rule", "color": "#000000", "strokeWidth": 1.8}, "encoding": {"y": {"field": "lo", "type": "quantitative"}, "y2": {"field": "hi"}}},
           {"mark": {"type": "tick", "color": "#000000", "thickness": 1.8, "size": 8}, "encoding": {"y": {"field": "lo", "type": "quantitative"}}},
           {"mark": {"type": "tick", "color": "#000000", "thickness": 1.8, "size": 8}, "encoding": {"y": {"field": "hi", "type": "quantitative"}}}
          ]},
         {"data": {"name": "brackets"}, "transform": [{"filter": {"field": "genus", "equal": "Streptococcus"}}],
          "layer": [
           {"mark": {"type": "rule", "color": "#888888", "strokeWidth": 1}, "encoding": {"x": {"datum": "Mild", "type": "nominal"}, "x2": {"datum": "Severe"}, "y": {"field": "top", "type": "quantitative"}}},
           {"mark": {"type": "rule", "color": "#888888", "strokeWidth": 1}, "encoding": {"x": {"datum": "Mild", "type": "nominal"}, "y": {"field": "top", "type": "quantitative"}, "y2": {"field": "tip"}}},
           {"mark": {"type": "rule", "color": "#888888", "strokeWidth": 1}, "encoding": {"x": {"datum": "Severe", "type": "nominal"}, "y": {"field": "top", "type": "quantitative"}, "y2": {"field": "tip"}}},
           {"mark": {"type": "text", "fontSize": 14, "baseline": "alphabetic", "dx": 8.5, "dy": 4, "color": "#111111"}, "encoding": {"x": {"datum": "Mild", "type": "nominal"}, "y": {"field": "top", "type": "quantitative"}, "text": {"field": "label", "type": "nominal"}}}
          ]}
        ]},
       {"width": 37, "height": 177, "title": {"text": "Prevotella"},
        "encoding": {"x": {"field": "group", "type": "nominal", "scale": {"domain": ["Mild","Severe"], "paddingInner": 0.18, "paddingOuter": 0.18}, "axis": {"title": null, "labelAngle": -45, "labelAlign": "right", "labelBaseline": "top", "labelFontSize": 10, "labelPadding": 1}}},
        "layer": [
         {"data": {"name": "cstats"}, "transform": [{"filter": {"field": "genus", "equal": "Prevotella"}}],
          "layer": [
           {"mark": {"type": "bar"}, "encoding": {"y": {"field": "mean", "type": "quantitative", "scale": {"domain": [0, 0.0764], "nice": false}, "axis": {"title": "Relative abundance", "values": [0, 0.02, 0.04, 0.06], "format": ".2f"}}, "color": {"field": "group", "type": "nominal", "scale": {"domain": ["Mild","Severe"], "range": ["#F6BE4F","#B21C2B"]}, "legend": null}}},
           {"mark": {"type": "rule", "color": "#000000", "strokeWidth": 1.8}, "encoding": {"y": {"field": "lo", "type": "quantitative"}, "y2": {"field": "hi"}}},
           {"mark": {"type": "tick", "color": "#000000", "thickness": 1.8, "size": 8}, "encoding": {"y": {"field": "lo", "type": "quantitative"}}},
           {"mark": {"type": "tick", "color": "#000000", "thickness": 1.8, "size": 8}, "encoding": {"y": {"field": "hi", "type": "quantitative"}}}
          ]},
         {"data": {"name": "brackets"}, "transform": [{"filter": {"field": "genus", "equal": "Prevotella"}}],
          "layer": [
           {"mark": {"type": "rule", "color": "#888888", "strokeWidth": 1}, "encoding": {"x": {"datum": "Mild", "type": "nominal"}, "x2": {"datum": "Severe"}, "y": {"field": "top", "type": "quantitative"}}},
           {"mark": {"type": "rule", "color": "#888888", "strokeWidth": 1}, "encoding": {"x": {"datum": "Mild", "type": "nominal"}, "y": {"field": "top", "type": "quantitative"}, "y2": {"field": "tip"}}},
           {"mark": {"type": "rule", "color": "#888888", "strokeWidth": 1}, "encoding": {"x": {"datum": "Severe", "type": "nominal"}, "y": {"field": "top", "type": "quantitative"}, "y2": {"field": "tip"}}},
           {"mark": {"type": "text", "fontSize": 14, "baseline": "alphabetic", "dx": 8.5, "dy": 4, "color": "#111111"}, "encoding": {"x": {"datum": "Mild", "type": "nominal"}, "y": {"field": "top", "type": "quantitative"}, "text": {"field": "label", "type": "nominal"}}}
          ]}
        ]},
       {"width": 37, "height": 177, "title": {"text": "Burkholderia"},
        "encoding": {"x": {"field": "group", "type": "nominal", "scale": {"domain": ["Mild","Severe"], "paddingInner": 0.18, "paddingOuter": 0.18}, "axis": {"title": null, "labelAngle": -45, "labelAlign": "right", "labelBaseline": "top", "labelFontSize": 10, "labelPadding": 1}}},
        "layer": [
         {"data": {"name": "cstats"}, "transform": [{"filter": {"field": "genus", "equal": "Burkholderia"}}],
          "layer": [
           {"mark": {"type": "bar"}, "encoding": {"y": {"field": "mean", "type": "quantitative", "scale": {"domain": [0, 0.339], "nice": false}, "axis": {"title": "Relative abundance", "values": [0, 0.1, 0.2, 0.3], "format": ".1f"}}, "color": {"field": "group", "type": "nominal", "scale": {"domain": ["Mild","Severe"], "range": ["#F6BE4F","#B21C2B"]}, "legend": null}}},
           {"mark": {"type": "rule", "color": "#000000", "strokeWidth": 1.8}, "encoding": {"y": {"field": "lo", "type": "quantitative"}, "y2": {"field": "hi"}}},
           {"mark": {"type": "tick", "color": "#000000", "thickness": 1.8, "size": 8}, "encoding": {"y": {"field": "lo", "type": "quantitative"}}},
           {"mark": {"type": "tick", "color": "#000000", "thickness": 1.8, "size": 8}, "encoding": {"y": {"field": "hi", "type": "quantitative"}}}
          ]},
         {"data": {"name": "brackets"}, "transform": [{"filter": {"field": "genus", "equal": "Burkholderia"}}],
          "layer": [
           {"mark": {"type": "rule", "color": "#888888", "strokeWidth": 1}, "encoding": {"x": {"datum": "Mild", "type": "nominal"}, "x2": {"datum": "Severe"}, "y": {"field": "top", "type": "quantitative"}}},
           {"mark": {"type": "rule", "color": "#888888", "strokeWidth": 1}, "encoding": {"x": {"datum": "Mild", "type": "nominal"}, "y": {"field": "top", "type": "quantitative"}, "y2": {"field": "tip"}}},
           {"mark": {"type": "rule", "color": "#888888", "strokeWidth": 1}, "encoding": {"x": {"datum": "Severe", "type": "nominal"}, "y": {"field": "top", "type": "quantitative"}, "y2": {"field": "tip"}}},
           {"mark": {"type": "text", "fontSize": 10, "baseline": "alphabetic", "dx": 8.5, "dy": -2, "color": "#111111"}, "encoding": {"x": {"datum": "Mild", "type": "nominal"}, "y": {"field": "top", "type": "quantitative"}, "text": {"field": "label", "type": "nominal"}}}
          ]}
        ]},
       {"width": 37, "height": 177, "title": {"text": "Mycoplasma"},
        "encoding": {"x": {"field": "group", "type": "nominal", "scale": {"domain": ["Mild","Severe"], "paddingInner": 0.18, "paddingOuter": 0.18}, "axis": {"title": null, "labelAngle": -45, "labelAlign": "right", "labelBaseline": "top", "labelFontSize": 10, "labelPadding": 1}}},
        "layer": [
         {"data": {"name": "cstats"}, "transform": [{"filter": {"field": "genus", "equal": "Mycoplasma"}}],
          "layer": [
           {"mark": {"type": "bar"}, "encoding": {"y": {"field": "mean", "type": "quantitative", "scale": {"domain": [0, 0.4], "nice": false}, "axis": {"title": "Relative abundance", "values": [0, 0.1, 0.2, 0.3, 0.4], "format": ".1f"}}, "color": {"field": "group", "type": "nominal", "scale": {"domain": ["Mild","Severe"], "range": ["#F6BE4F","#B21C2B"]}, "legend": null}}},
           {"mark": {"type": "rule", "color": "#000000", "strokeWidth": 1.8}, "encoding": {"y": {"field": "lo", "type": "quantitative"}, "y2": {"field": "hi"}}},
           {"mark": {"type": "tick", "color": "#000000", "thickness": 1.8, "size": 8}, "encoding": {"y": {"field": "lo", "type": "quantitative"}}},
           {"mark": {"type": "tick", "color": "#000000", "thickness": 1.8, "size": 8}, "encoding": {"y": {"field": "hi", "type": "quantitative"}}}
          ]},
         {"data": {"name": "brackets"}, "transform": [{"filter": {"field": "genus", "equal": "Mycoplasma"}}],
          "layer": [
           {"mark": {"type": "rule", "color": "#888888", "strokeWidth": 1}, "encoding": {"x": {"datum": "Mild", "type": "nominal"}, "x2": {"datum": "Severe"}, "y": {"field": "top", "type": "quantitative"}}},
           {"mark": {"type": "rule", "color": "#888888", "strokeWidth": 1}, "encoding": {"x": {"datum": "Mild", "type": "nominal"}, "y": {"field": "top", "type": "quantitative"}, "y2": {"field": "tip"}}},
           {"mark": {"type": "rule", "color": "#888888", "strokeWidth": 1}, "encoding": {"x": {"datum": "Severe", "type": "nominal"}, "y": {"field": "top", "type": "quantitative"}, "y2": {"field": "tip"}}},
           {"mark": {"type": "text", "fontSize": 10, "baseline": "alphabetic", "dx": 8.5, "dy": -2, "color": "#111111"}, "encoding": {"x": {"datum": "Mild", "type": "nominal"}, "y": {"field": "top", "type": "quantitative"}, "text": {"field": "label", "type": "nominal"}}}
          ]}
        ]},
       {"width": 37, "height": 177, "title": {"text": "Staphylococcus"},
        "encoding": {"x": {"field": "group", "type": "nominal", "scale": {"domain": ["Mild","Severe"], "paddingInner": 0.18, "paddingOuter": 0.18}, "axis": {"title": null, "labelAngle": -45, "labelAlign": "right", "labelBaseline": "top", "labelFontSize": 10, "labelPadding": 1}}},
        "layer": [
         {"data": {"name": "cstats"}, "transform": [{"filter": {"field": "genus", "equal": "Staphylococcus"}}],
          "layer": [
           {"mark": {"type": "bar"}, "encoding": {"y": {"field": "mean", "type": "quantitative", "scale": {"domain": [0, 0.304], "nice": false}, "axis": {"title": "Relative abundance", "values": [0, 0.1, 0.2, 0.3], "format": ".1f"}}, "color": {"field": "group", "type": "nominal", "scale": {"domain": ["Mild","Severe"], "range": ["#F6BE4F","#B21C2B"]}, "legend": null}}},
           {"mark": {"type": "rule", "color": "#000000", "strokeWidth": 1.8}, "encoding": {"y": {"field": "lo", "type": "quantitative"}, "y2": {"field": "hi"}}},
           {"mark": {"type": "tick", "color": "#000000", "thickness": 1.8, "size": 8}, "encoding": {"y": {"field": "lo", "type": "quantitative"}}},
           {"mark": {"type": "tick", "color": "#000000", "thickness": 1.8, "size": 8}, "encoding": {"y": {"field": "hi", "type": "quantitative"}}}
          ]},
         {"data": {"name": "brackets"}, "transform": [{"filter": {"field": "genus", "equal": "Staphylococcus"}}],
          "layer": [
           {"mark": {"type": "rule", "color": "#888888", "strokeWidth": 1}, "encoding": {"x": {"datum": "Mild", "type": "nominal"}, "x2": {"datum": "Severe"}, "y": {"field": "top", "type": "quantitative"}}},
           {"mark": {"type": "rule", "color": "#888888", "strokeWidth": 1}, "encoding": {"x": {"datum": "Mild", "type": "nominal"}, "y": {"field": "top", "type": "quantitative"}, "y2": {"field": "tip"}}},
           {"mark": {"type": "rule", "color": "#888888", "strokeWidth": 1}, "encoding": {"x": {"datum": "Severe", "type": "nominal"}, "y": {"field": "top", "type": "quantitative"}, "y2": {"field": "tip"}}},
           {"mark": {"type": "text", "fontSize": 14, "baseline": "alphabetic", "dx": 8.5, "dy": 4, "color": "#111111"}, "encoding": {"x": {"datum": "Mild", "type": "nominal"}, "y": {"field": "top", "type": "quantitative"}, "text": {"field": "label", "type": "nominal"}}}
          ]}
        ]},
       {"width": 37, "height": 177, "title": {"text": "Propionibacterium"},
        "encoding": {"x": {"field": "group", "type": "nominal", "scale": {"domain": ["Mild","Severe"], "paddingInner": 0.18, "paddingOuter": 0.18}, "axis": {"title": null, "labelAngle": -45, "labelAlign": "right", "labelBaseline": "top", "labelFontSize": 10, "labelPadding": 1}}},
        "layer": [
         {"data": {"name": "cstats"}, "transform": [{"filter": {"field": "genus", "equal": "Propionibacterium"}}],
          "layer": [
           {"mark": {"type": "bar"}, "encoding": {"y": {"field": "mean", "type": "quantitative", "scale": {"domain": [0, 0.02718], "nice": false}, "axis": {"title": "Relative abundance", "values": [0, 0.01, 0.02], "format": ".2f"}}, "color": {"field": "group", "type": "nominal", "scale": {"domain": ["Mild","Severe"], "range": ["#F6BE4F","#B21C2B"]}, "legend": null}}},
           {"mark": {"type": "rule", "color": "#000000", "strokeWidth": 1.8}, "encoding": {"y": {"field": "lo", "type": "quantitative"}, "y2": {"field": "hi"}}},
           {"mark": {"type": "tick", "color": "#000000", "thickness": 1.8, "size": 8}, "encoding": {"y": {"field": "lo", "type": "quantitative"}}},
           {"mark": {"type": "tick", "color": "#000000", "thickness": 1.8, "size": 8}, "encoding": {"y": {"field": "hi", "type": "quantitative"}}}
          ]},
         {"data": {"name": "brackets"}, "transform": [{"filter": {"field": "genus", "equal": "Propionibacterium"}}],
          "layer": [
           {"mark": {"type": "rule", "color": "#888888", "strokeWidth": 1}, "encoding": {"x": {"datum": "Mild", "type": "nominal"}, "x2": {"datum": "Severe"}, "y": {"field": "top", "type": "quantitative"}}},
           {"mark": {"type": "rule", "color": "#888888", "strokeWidth": 1}, "encoding": {"x": {"datum": "Mild", "type": "nominal"}, "y": {"field": "top", "type": "quantitative"}, "y2": {"field": "tip"}}},
           {"mark": {"type": "rule", "color": "#888888", "strokeWidth": 1}, "encoding": {"x": {"datum": "Severe", "type": "nominal"}, "y": {"field": "top", "type": "quantitative"}, "y2": {"field": "tip"}}},
           {"mark": {"type": "text", "fontSize": 10, "baseline": "alphabetic", "dx": 8.5, "dy": -2, "color": "#111111"}, "encoding": {"x": {"datum": "Mild", "type": "nominal"}, "y": {"field": "top", "type": "quantitative"}, "text": {"field": "label", "type": "nominal"}}}
          ]}
        ]},
       {"width": 37, "height": 177, "title": {"text": "Escherichia"},
        "encoding": {"x": {"field": "group", "type": "nominal", "scale": {"domain": ["Mild","Severe"], "paddingInner": 0.18, "paddingOuter": 0.18}, "axis": {"title": null, "labelAngle": -45, "labelAlign": "right", "labelBaseline": "top", "labelFontSize": 10, "labelPadding": 1}}},
        "layer": [
         {"data": {"name": "cstats"}, "transform": [{"filter": {"field": "genus", "equal": "Escherichia"}}],
          "layer": [
           {"mark": {"type": "bar"}, "encoding": {"y": {"field": "mean", "type": "quantitative", "scale": {"domain": [0, 0.0436], "nice": false}, "axis": {"title": "Relative abundance", "values": [0, 0.01, 0.02, 0.03, 0.04], "format": ".2f"}}, "color": {"field": "group", "type": "nominal", "scale": {"domain": ["Mild","Severe"], "range": ["#F6BE4F","#B21C2B"]}, "legend": null}}},
           {"mark": {"type": "rule", "color": "#000000", "strokeWidth": 1.8}, "encoding": {"y": {"field": "lo", "type": "quantitative"}, "y2": {"field": "hi"}}},
           {"mark": {"type": "tick", "color": "#000000", "thickness": 1.8, "size": 8}, "encoding": {"y": {"field": "lo", "type": "quantitative"}}},
           {"mark": {"type": "tick", "color": "#000000", "thickness": 1.8, "size": 8}, "encoding": {"y": {"field": "hi", "type": "quantitative"}}}
          ]},
         {"data": {"name": "brackets"}, "transform": [{"filter": {"field": "genus", "equal": "Escherichia"}}],
          "layer": [
           {"mark": {"type": "rule", "color": "#888888", "strokeWidth": 1}, "encoding": {"x": {"datum": "Mild", "type": "nominal"}, "x2": {"datum": "Severe"}, "y": {"field": "top", "type": "quantitative"}}},
           {"mark": {"type": "rule", "color": "#888888", "strokeWidth": 1}, "encoding": {"x": {"datum": "Mild", "type": "nominal"}, "y": {"field": "top", "type": "quantitative"}, "y2": {"field": "tip"}}},
           {"mark": {"type": "rule", "color": "#888888", "strokeWidth": 1}, "encoding": {"x": {"datum": "Severe", "type": "nominal"}, "y": {"field": "top", "type": "quantitative"}, "y2": {"field": "tip"}}},
           {"mark": {"type": "text", "fontSize": 14, "baseline": "alphabetic", "dx": 8.5, "dy": 4, "color": "#111111"}, "encoding": {"x": {"datum": "Mild", "type": "nominal"}, "y": {"field": "top", "type": "quantitative"}, "text": {"field": "label", "type": "nominal"}}}
          ]}
        ]}
      ]
     }
    ]
   }
  ]
 }
]
}
